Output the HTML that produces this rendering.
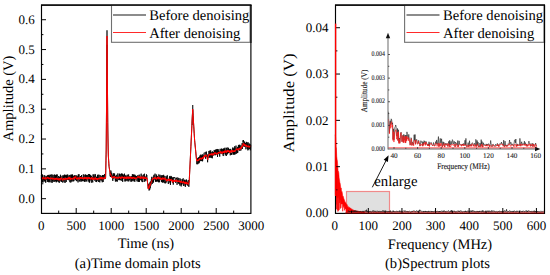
<!DOCTYPE html>
<html><head><meta charset="utf-8"><style>
html,body{margin:0;padding:0;background:#fff;width:550px;height:275px;overflow:hidden}
svg{display:block}
svg text{font-family:"Liberation Serif",serif;text-rendering:geometricPrecision}
</style></head><body><svg width="550" height="275" viewBox="0 0 550 275"><path d="M41.3 175.11 41.52 178.49 41.74 179.71 41.96 174.41 42.18 175.27 42.4 182.32 42.62 174.72 42.84 175.15 43.06 182.47 43.28 179.93 43.5 177.07 43.72 178.75 43.94 180.3 44.16 176.28 44.38 175.23 44.6 181.32 44.82 180.38 45.04 178.79 45.26 181.55 45.48 179.24 45.7 182.74 45.92 175.75 46.14 179.3 46.36 178.31 46.58 176.98 46.8 179.7 47.02 176.01 47.24 181.47 47.46 181.96 47.68 175.22 47.9 178.12 48.12 176.36 48.34 174.9 48.56 182.19 48.78 177.73 49 175.38 49.22 180.47 49.44 175.79 49.66 182.24 49.88 175.91 50.1 174.57 50.32 175.8 50.54 174.98 50.76 178.19 50.98 182.3 51.2 180.71 51.42 176.93 51.64 174.48 51.86 175.51 52.08 182.95 52.3 178.11 52.52 180.67 52.74 174.77 52.96 174.62 53.18 181.89 53.4 179.77 53.62 176.71 53.84 176.78 54.06 175.03 54.28 175.65 54.5 174.58 54.72 181.87 54.94 178.22 55.16 175.32 55.38 181.11 55.6 175.84 55.82 174.87 56.04 179.91 56.26 182.31 56.48 174.63 56.7 181.64 56.92 175.82 57.14 175.11 57.36 174.58 57.58 176.64 57.8 181.05 58.02 178.63 58.24 182.03 58.46 176.05 58.68 176.84 58.9 176.38 59.12 182.94 59.34 182.68 59.56 177.07 59.78 177.97 60 176.85 60.22 181.24 60.44 174.76 60.66 174.95 60.88 177.63 61.1 176.26 61.32 181.96 61.54 181.16 61.76 179.38 61.98 180.48 62.2 180.74 62.42 181.44 62.64 182.51 62.86 175.48 63.08 180.14 63.3 175.42 63.52 177.94 63.74 181.44 63.96 182.24 64.18 181.22 64.4 174.61 64.62 177.1 64.84 175.52 65.06 182.94 65.28 175.36 65.5 176.12 65.72 177.05 65.94 174.75 66.16 182 66.38 180.13 66.6 175.44 66.82 178.7 67.04 174.84 67.26 179.87 67.48 175.96 67.7 174.54 67.92 175.08 68.14 179.29 68.36 180.08 68.58 176.68 68.8 180.12 69.02 176.91 69.24 175.15 69.46 178.57 69.68 177.28 69.9 182.19 70.12 175.01 70.34 174.79 70.56 179.29 70.78 182.52 71 182.12 71.22 180.53 71.44 174.62 71.66 181.36 71.88 180.37 72.1 175.16 72.32 177.92 72.54 174.47 72.76 181.29 72.98 180.63 73.2 181.3 73.42 180.95 73.64 176.06 73.86 181.16 74.08 175.9 74.3 175.05 74.52 177.09 74.74 178.3 74.96 176.17 75.18 179.59 75.4 179.55 75.62 175.78 75.84 179.72 76.06 175.17 76.28 180.66 76.5 176.16 76.72 181.15 76.94 177.25 77.16 179 77.38 180.12 77.6 178.58 77.82 175.86 78.04 182.42 78.26 174.63 78.48 176.39 78.7 178.91 78.92 174.13 79.14 175.03 79.36 181.07 79.58 180.95 79.8 179.73 80.02 181.81 80.24 180.71 80.46 176.13 80.68 179.8 80.9 176.48 81.12 180.67 81.34 176.88 81.56 175 81.78 181.64 82 180.2 82.22 180.64 82.44 179 82.66 180.94 82.88 177.51 83.1 179.06 83.32 174.35 83.54 178.95 83.76 181.19 83.98 180.33 84.2 181.1 84.42 178.13 84.64 181.69 84.86 174.69 85.08 181.65 85.3 176.77 85.52 174.57 85.74 179.6 85.96 177.6 86.18 177.32 86.4 181.48 86.62 174.91 86.84 179.58 87.06 177.18 87.28 178.67 87.5 178.22 87.72 174.89 87.94 178.46 88.16 181.56 88.38 175.17 88.6 174.02 88.82 174.42 89.04 177.67 89.26 182.37 89.48 174.25 89.7 182.49 89.92 178.77 90.14 174.8 90.36 177.24 90.58 175.45 90.8 180.44 91.02 178.84 91.24 176.09 91.46 175.83 91.68 182.69 91.9 180.86 92.12 177.43 92.34 177.13 92.56 180.63 92.78 182.36 93 174.52 93.22 175.1 93.44 176.73 93.66 178.42 93.88 174.47 94.1 174.34 94.32 175.56 94.54 176.95 94.76 180.66 94.98 179.55 95.2 174.18 95.42 174.29 95.64 177.62 95.86 181.69 96.08 181.98 96.3 176.77 96.52 181.79 96.74 182.09 96.96 177.16 97.18 180.72 97.4 176.78 97.62 175.08 97.84 179.23 98.06 174.6 98.28 180.05 98.5 181.22 98.72 182 98.94 177.59 99.16 174.82 99.38 181.91 99.6 181.68 99.82 182.37 100.04 179.43 100.26 180.13 100.48 176.84 100.7 175.28 100.92 176.12 101.14 180.47 101.36 176.37 101.58 180.21 101.8 178.26 102.02 177.5 102.24 182.26 102.46 175.06 102.68 177.93 102.9 174.98 103.12 182 103.34 177.91 103.56 176.31 103.78 175 104 179.22 104.22 176.88 104.44 174.66 104.66 173.97 104.88 176.77 105.1 179.05 105.32 178.33 105.54 178 105.76 170.53 105.98 160.27 106.2 150 106.42 122.5 106.64 93.6 106.86 58.4 107.08 44.8 107.3 69 107.52 95 107.74 122.5 107.96 138 108.18 149 108.4 156.57 108.62 160.03 108.84 163.49 109.06 166.39 109.28 167.82 109.5 169.25 109.72 170.68 109.94 172.11 110.16 176.28 110.38 172.48 110.6 176.85 110.82 170.51 111.04 171.16 111.26 177.03 111.48 173.79 111.7 172.8 111.92 173.38 112.14 175.51 112.36 175.32 112.58 178.05 112.8 180.87 113.02 176 113.24 174.53 113.46 178.48 113.68 173.23 113.9 176.19 114.12 175.61 114.34 176.23 114.56 173.59 114.78 178.27 115 178.96 115.22 180.02 115.44 181.57 115.66 175.97 115.88 179.27 116.1 176.81 116.32 174.84 116.54 181.11 116.76 180.03 116.98 181.5 117.2 180.63 117.42 181.33 117.64 174.22 117.86 173.43 118.08 174.76 118.3 176.56 118.52 179.6 118.74 176.84 118.96 177.89 119.18 180.21 119.4 173.85 119.62 179.55 119.84 173.71 120.06 175.2 120.28 179.93 120.5 179.61 120.72 176.56 120.94 174.09 121.16 180.77 121.38 175.44 121.6 173.63 121.82 175.23 122.04 173.57 122.26 180.67 122.48 174.3 122.7 181.86 122.92 174.99 123.14 175.74 123.36 178.8 123.58 175.77 123.8 176.39 124.02 174.21 124.24 176.49 124.46 173.66 124.68 175.12 124.9 181.46 125.12 175.58 125.34 175.5 125.56 179.69 125.78 181.27 126 175.7 126.22 176.39 126.44 179.99 126.66 180.6 126.88 179.12 127.1 174.78 127.32 174.8 127.54 180.33 127.76 179.92 127.98 181.37 128.2 180.5 128.42 176.82 128.64 174.44 128.86 181.33 129.08 179.83 129.3 178.76 129.52 179.71 129.74 176.47 129.96 176.1 130.18 178.75 130.4 177.51 130.62 179.94 130.84 181.65 131.06 181.01 131.28 176.5 131.5 176.36 131.72 181.59 131.94 176.56 132.16 180.66 132.38 174.15 132.6 177.13 132.82 178.08 133.04 180.72 133.26 181.24 133.48 174.59 133.7 179.15 133.92 179.26 134.14 174.58 134.36 180.91 134.58 178.52 134.8 181.83 135.02 174.84 135.24 178.19 135.46 175.93 135.68 179.38 135.9 179.06 136.12 178.02 136.34 175.94 136.56 177.89 136.78 176.36 137 181.33 137.22 177.25 137.44 177.41 137.66 175.4 137.88 175.36 138.1 181.78 138.32 175.85 138.54 181.17 138.76 178.94 138.98 181.97 139.2 174.67 139.42 181.69 139.64 180.45 139.86 178.67 140.08 179.94 140.3 180.06 140.52 177.12 140.74 179.33 140.96 175.19 141.18 173.68 141.4 179.71 141.62 177.45 141.84 181.49 142.06 175.5 142.28 180.86 142.5 182.08 142.72 181.46 142.94 181.94 143.16 174.72 143.38 174.78 143.6 175.26 143.82 176.75 144.04 174.43 144.26 174.69 144.48 173.76 144.7 181.77 144.92 176.4 145.14 179.37 145.36 177.32 145.58 180.37 145.8 180.87 146.02 176.63 146.24 178.49 146.46 174.37 146.68 175.81 146.9 175.31 147.12 179.02 147.34 180.88 147.56 182.74 147.78 184.6 148 186.46 148.22 188.32 148.44 184.46 148.66 183.91 148.88 183.76 149.1 190.5 149.32 188.14 149.54 188.43 149.76 189.62 149.98 182.36 150.2 188.29 150.42 181.49 150.64 183.8 150.86 184.87 151.08 185.26 151.3 179.41 151.52 181 151.74 176.85 151.96 178.14 152.18 183.94 152.4 182.88 152.62 179.93 152.84 181.52 153.06 182.22 153.28 176.66 153.5 182.47 153.72 177.45 153.94 174.83 154.16 178.29 154.38 178.81 154.6 179.62 154.82 179.46 155.04 173.66 155.26 179.25 155.48 181.48 155.7 179.57 155.92 181.92 156.14 178.03 156.36 180.78 156.58 174.57 156.8 181.47 157.02 176.47 157.24 181.39 157.46 176.1 157.68 179.44 157.9 181.26 158.12 180.24 158.34 179.48 158.56 182.24 158.78 174.49 159 174.62 159.22 178.93 159.44 182.24 159.66 180.24 159.88 176.33 160.1 174.81 160.32 177.68 160.54 178.08 160.76 177.96 160.98 179.83 161.2 176.21 161.42 181.98 161.64 176.39 161.86 175.04 162.08 176.96 162.3 182.49 162.52 175.51 162.74 176.45 162.96 182.51 163.18 177.1 163.4 181.97 163.62 174.83 163.84 182.36 164.06 176.3 164.28 175.9 164.5 181.34 164.72 183.19 164.94 183.01 165.16 181.52 165.38 182.78 165.6 183.33 165.82 179.88 166.04 175.94 166.26 182.48 166.48 178.07 166.7 177.38 166.92 179.41 167.14 175.37 167.36 175.3 167.58 177.16 167.8 180.71 168.02 182.07 168.24 183.65 168.46 182.69 168.68 183.63 168.9 181.3 169.12 182.17 169.34 180.93 169.56 176.18 169.78 176.09 170 182.55 170.22 177.2 170.44 184.92 170.66 179.61 170.88 175.92 171.1 181.02 171.32 179.51 171.54 176.52 171.76 177.97 171.98 178.39 172.2 178.76 172.42 182.61 172.64 177.42 172.86 179.82 173.08 181.87 173.3 184.59 173.52 177.22 173.74 177 173.96 177.87 174.18 178.14 174.4 177.74 174.62 177.16 174.84 178.18 175.06 178.33 175.28 180.72 175.5 182.72 175.72 179.62 175.94 178.08 176.16 177.59 176.38 178.9 176.6 178.23 176.82 181.03 177.04 184.78 177.26 183.63 177.48 178.64 177.7 177.46 177.92 177.73 178.14 180.77 178.36 180.12 178.58 183.6 178.8 178.01 179.02 179.33 179.24 183.76 179.46 182.72 179.68 182.18 179.9 185.55 180.12 178.48 180.34 179.13 180.56 182.91 180.78 182.95 181 186.31 181.22 186.33 181.44 182.15 181.66 184.81 181.88 184.36 182.1 179 182.32 183.61 182.54 180.42 182.76 180.92 182.98 179.34 183.2 178.33 183.42 185.87 183.64 184.82 183.86 185.18 184.08 180.57 184.3 181.76 184.52 179.78 184.74 184.07 184.96 186.06 185.18 185.64 185.4 186.83 185.62 180.64 185.84 185.15 186.06 179.71 186.28 183.68 186.5 179.68 186.72 183.81 186.94 183.88 187.16 181.66 187.38 181.72 187.6 185.57 187.82 183.14 188.04 182.38 188.26 180.03 188.48 181.37 188.7 186.54 188.92 186.85 189.14 182.16 189.36 178.66 189.58 174.07 189.8 169.49 190.02 164.9 190.24 160.31 190.46 155.72 190.68 151.13 190.9 146.54 191.12 141.95 191.34 137.37 191.56 132.78 191.78 128.19 192 123.6 192.22 119.01 192.44 114.42 192.66 109.83 192.88 111.94 193.1 115.53 193.32 119.12 193.54 122.71 193.76 126.29 193.98 129.88 194.2 133.47 194.42 137.06 194.64 140.41 194.86 142.66 195.08 144.92 195.3 147.17 195.52 149.43 195.74 151.68 195.96 153.94 196.18 156.19 196.4 158.45 196.62 160.5 196.84 164.22 197.06 161.85 197.28 159.73 197.5 158.23 197.72 164.21 197.94 162.99 198.16 163.12 198.38 157.45 198.6 159.19 198.82 163.36 199.04 157.25 199.26 162.58 199.48 160.04 199.7 156.65 199.92 157.81 200.14 155.33 200.36 160.81 200.58 161.12 200.8 154.61 201.02 156.52 201.24 161.07 201.46 155.46 201.68 158.72 201.9 160.96 202.12 158.82 202.34 154.35 202.56 161.31 202.78 159.96 203 158.22 203.22 155.45 203.44 158.12 203.66 155.7 203.88 153.37 204.1 153.26 204.32 152.57 204.54 153.34 204.76 153.78 204.98 155.89 205.2 156.4 205.42 156.97 205.64 158.76 205.86 151.97 206.08 154.17 206.3 151.58 206.52 154.28 206.74 156.16 206.96 157.04 207.18 154.35 207.4 158.8 207.62 162.25 207.84 156.98 208.06 157.92 208.28 156.65 208.5 155.38 208.72 155.29 208.94 150.96 209.16 153.99 209.38 155.67 209.6 157.64 209.82 150.64 210.04 157.37 210.26 155.35 210.48 155.4 210.7 150.43 210.92 157.78 211.14 152.04 211.36 154.89 211.58 154.75 211.8 157.82 212.02 155.31 212.24 158.31 212.46 151.41 212.68 155.72 212.9 154.89 213.12 154.13 213.34 155.29 213.56 154.49 213.78 152 214 155.28 214.22 149.95 214.44 153.28 214.66 152.93 214.88 150.78 215.1 153.73 215.32 155.26 215.54 149.98 215.76 151.26 215.98 149.44 216.2 154.43 216.42 149.49 216.64 150.55 216.86 152.43 217.08 152.43 217.3 148.97 217.52 156.93 217.74 150.33 217.96 154.19 218.18 149.19 218.4 153.97 218.62 151.16 218.84 150.82 219.06 152.29 219.28 153.7 219.5 153.77 219.72 156.59 219.94 150.19 220.16 148.83 220.38 150.02 220.6 150.59 220.82 153.67 221.04 151.34 221.26 150.39 221.48 148.73 221.7 153.47 221.92 148.77 222.14 152.55 222.36 154.21 222.58 153.62 222.8 149.03 223.02 150.58 223.24 156.04 223.46 148.46 223.68 153.99 223.9 151.25 224.12 153.36 224.34 150.78 224.56 148.58 224.78 152.79 225 147.7 225.22 155.27 225.44 154.75 225.66 150.45 225.88 152.4 226.1 152.26 226.32 155.97 226.54 147.79 226.76 149.68 226.98 150.62 227.2 154.48 227.42 154 227.64 150.71 227.86 147.42 228.08 153.24 228.3 150.47 228.52 148.1 228.74 153.02 228.96 150.79 229.18 149.49 229.4 151.02 229.62 151.79 229.84 148.94 230.06 150.15 230.28 155.27 230.5 151 230.72 148.89 230.94 151.65 231.16 154.98 231.38 154.54 231.6 153 231.82 154.65 232.04 153.52 232.26 152.84 232.48 149.96 232.7 147.57 232.92 153.07 233.14 152.19 233.36 154.7 233.58 148.67 233.8 153.92 234.02 147.72 234.24 154.29 234.46 154.58 234.68 146.27 234.9 148.32 235.12 154.4 235.34 154.13 235.56 151.81 235.78 146.58 236 145.61 236.22 147.32 236.44 153.65 236.66 152.57 236.88 148.7 237.1 152.1 237.32 153.1 237.54 147.35 237.76 152.77 237.98 146.98 238.2 147.4 238.42 145.18 238.64 145.95 238.86 149.73 239.08 144.8 239.3 149.39 239.52 145.48 239.74 150.84 239.96 144.81 240.18 145.21 240.4 145.51 240.62 148.67 240.84 150.55 241.06 149.78 241.28 149.5 241.5 148.83 241.72 147.34 241.94 144.84 242.16 143.12 242.38 148.96 242.6 144.02 242.82 146.25 243.04 140.28 243.26 142.05 243.48 140.12 243.7 142.37 243.92 146.57 244.14 142.77 244.36 146.66 244.58 141.58 244.8 143.94 245.02 144.42 245.24 145.75 245.46 143.01 245.68 147.78 245.9 149.27 246.12 148.83 246.34 141.86 246.56 145.8 246.78 144.4 247 147.09 247.22 142.52 247.44 148.62 247.66 145.36 247.88 150.37 248.1 142.33 248.32 145.49 248.54 146.26 248.76 149.59 248.98 149.02 249.2 143.51 249.42 144.5 249.64 148.86 249.86 145.5 250.08 144.13 250.3 150.32 250.52 149.68 250.74 144.91" fill="none" stroke="#000" stroke-width="0.85" />
<path d="M106.5 110 107 30.3 107.5 110" fill="none" stroke="#333" stroke-width="1.0" />
<path d="M192.2 125 192.7 105 193.2 125" fill="none" stroke="#333" stroke-width="1.0" />
<path d="M41.3 178.62 41.9 177.2 42.5 178.89 43.1 178.8 43.7 177.21 44.3 179.25 44.9 177.68 45.5 178.48 46.1 179.27 46.7 177.7 47.3 177.59 47.9 178.01 48.5 178.04 49.1 178.58 49.7 178.37 50.3 178.39 50.9 178.41 51.5 178.59 52.1 178.22 52.7 178.89 53.3 178.71 53.9 178.15 54.5 179.76 55.1 178.03 55.7 179.17 56.3 178.35 56.9 178.98 57.5 179.08 58.1 179.28 58.7 179.6 59.3 178.34 59.9 180.43 60 178.8 60.5 179.04 61.1 178.34 61.7 178.02 62.3 180.08 62.9 179.67 63.5 178.72 64.1 179.14 64.7 179.44 65.3 178.74 65.9 178.42 66.5 178.63 67.1 179.1 67.7 178.62 68.3 177.9 68.9 179 69.5 177.59 70.1 178.12 70.7 179.22 71.3 178.64 71.9 178.62 72.5 178.53 73.1 179.03 73.7 178.4 74.3 177.32 74.9 178.53 75.5 176.65 76.1 177.21 76.7 179.23 77.3 178.91 77.9 178.04 78.5 178.24 79.1 178.32 79.7 178.81 80 178.2 80.3 177.81 80.9 177.75 81.5 177.89 82.1 178.33 82.7 178.4 83.3 178.03 83.9 178.69 84.5 177.69 85.1 178.22 85.7 177.88 86.3 177.7 86.9 178.96 87.5 178.1 88.1 177.71 88.7 178.31 89.3 177.72 89.9 178.62 90.5 178.77 91.1 178.87 91.7 177.7 92.3 178.22 92.9 179.34 93.5 178.19 94.1 179.02 94.7 179.17 95.3 177.54 95.9 179 96.5 178.75 97.1 178.82 97.7 179.28 98.3 178.59 98.9 178.38 99.5 178.68 100 178.3 100.1 178.14 100.7 178.58 101.3 177.14 101.9 179.21 102.5 177.91 103.1 178.48 103.7 178.32 104.3 178.17 104.9 178.04 105.5 178.01 105.6 178 106.1 154.67 106.2 150 106.6 100 106.7 84 107 36 107.3 69 107.4 80 107.8 130 107.9 135 108.3 155 108.5 158.14 109 166 109.1 166.65 109.7 171.27 110 172.5 110.3 174.22 110.9 174.93 111.5 176.5 111.5 176.69 112.1 177.37 112.7 177.66 113 177.5 113.3 177.5 113.9 176.74 114.5 177.16 115.1 176.74 115.7 178.49 116.3 177.39 116.9 177.53 117.5 177.81 118.1 177.67 118.7 177.97 119.3 177.34 119.9 176.85 120.5 178.7 121.1 177.33 121.7 177.48 122.3 177.31 122.9 177.47 123.5 177.8 124.1 178.22 124.7 177.23 125 177.8 125.3 177.99 125.9 177.45 126.5 178.5 127.1 177.13 127.7 177.88 128.3 178.22 128.9 177.06 129.5 177.88 130.1 177.9 130.7 177.37 131.3 177.7 131.9 178.37 132.5 177.95 133.1 177.58 133.7 177.7 134.3 178.06 134.9 178.52 135.5 178.26 136.1 178.22 136.7 178.69 137.3 176.95 137.9 177.01 138.5 176.55 139.1 178.28 139.7 176.54 140 177.8 140.3 177.79 140.9 178.25 141.5 177.08 142.1 177.5 142.7 177.74 143.3 178.31 143.9 177.08 144.5 178.11 145.1 178.34 145.7 178.05 146.3 177.98 146.9 178 147 178 147.5 182.23 148.1 187.31 148.3 189 148.7 188.08 149.3 186.69 149.6 186 149.9 185.28 150.5 184.19 151.1 182.44 151.7 181.56 152.3 179.05 152.5 179 152.9 178.76 153.5 178.5 154.1 178.11 154.5 177.6 154.7 178.26 155.3 177.93 155.9 178.29 156.5 178.95 157.1 178.42 157.7 177.44 158.3 177.32 158.9 178.56 159.5 178.06 160.1 178.51 160.7 178.33 161.3 179.23 161.9 179.25 162.5 178.05 163.1 178.9 163.7 178.66 164.3 178.19 164.9 179.35 165 179 165.5 179.02 166.1 179.47 166.7 180.71 167.3 180.19 167.9 180.19 168.5 179.48 169.1 179.17 169.7 180.63 170.3 179.89 170.9 180.21 171.5 180.09 172.1 180.48 172.7 181.87 173.3 180.49 173.9 180.63 174.5 181.01 175 181 175.1 181.18 175.7 180.47 176.3 180.27 176.9 181.04 177.5 181.36 178.1 181.16 178.7 181.15 179.3 181.3 179.9 181.71 180.5 181.98 181.1 181.26 181.7 181.97 182.3 182.58 182.9 182.43 183.5 181.87 184.1 182.53 184.7 182.83 185.3 183.38 185.9 182.18 186.5 183.56 187.1 183.04 187.7 183.52 188.3 183.9 188.6 183.6 188.9 182.31 189.2 182 189.5 175.28 190.1 163.15 190.7 150.71 191.3 138.2 191.9 125.69 192.5 113.17 192.7 109 193.1 115.53 193.7 125.32 194.3 135.11 194.6 140 194.9 143.08 195.5 149.23 196.1 155.38 196.6 160.5 196.7 160.51 197.3 160.57 197.6 160.6 197.9 160.42 198.5 160.07 199.1 159.7 199.7 158.78 200.3 158.68 200.9 158.24 201.5 158.85 202 158 202.1 158.71 202.7 157.73 203.3 158.04 203.9 156.63 204.5 156.26 205.1 155.34 205.7 155.7 206.3 155.32 206.5 155.2 206.9 156.8 207.5 159.2 207.7 160 208.1 157.69 208.6 154.8 208.7 154.78 209.3 154.66 209.9 154.48 210.5 154.41 211.1 154.64 211.7 154.04 212.3 153.89 212.9 154.86 213.5 154.38 214.1 153.62 214.7 153.04 215.3 153.19 215.9 153.52 216.5 153.65 217.1 154.38 217.7 152.82 218.3 152.91 218.9 152.52 219.5 152.63 220 152.5 220.1 152.27 220.7 151.83 221.3 152.91 221.9 152.36 222.5 152.92 223.1 151.88 223.7 152.24 224.3 152.38 224.9 150.94 225.5 151.18 226.1 152.24 226.7 151.82 227.3 150.7 227.9 151.24 228.5 151 229.1 151.25 229.7 152.28 230.3 151.07 230.9 152.42 231 151.3 231.5 151.02 232.1 150.59 232.7 151.67 233.3 151.16 233.9 151.22 234.5 151.36 235.1 150.71 235.7 150.62 236.3 148.85 236.9 149.17 237.5 149.68 238.1 149.38 238.7 149.49 239 149 239.3 148.51 239.9 148.87 240.5 148.87 241.1 147.59 241.7 147.23 242 146.5 242.3 146.11 242.9 144.95 243.3 143.5 243.5 143.88 244.1 144.19 244.7 145.28 245 145.5 245.3 145.68 245.9 145 246.5 146.15 247.1 146.24 247.7 146.54 248 146.5 248.3 146.23 248.9 146.79 249.5 146.87 250.1 146.14 250.7 146.7" fill="none" stroke="#ff0000" stroke-width="1.0" stroke-linejoin="round"/>
<path d="M41.3 178.62 41.9 177.2" fill="none" stroke="#ff0000" stroke-width="1.5" stroke-linejoin="round"/>
<path d="M42.5 178.89 43.1 178.8" fill="none" stroke="#ff0000" stroke-width="1.5" stroke-linejoin="round"/>
<path d="M44.9 177.68 45.5 178.48 46.1 179.27" fill="none" stroke="#ff0000" stroke-width="1.5" stroke-linejoin="round"/>
<path d="M46.7 177.7 47.3 177.59 47.9 178.01 48.5 178.04 49.1 178.58 49.7 178.37 50.3 178.39 50.9 178.41 51.5 178.59 52.1 178.22 52.7 178.89 53.3 178.71 53.9 178.15" fill="none" stroke="#ff0000" stroke-width="1.5" stroke-linejoin="round"/>
<path d="M55.1 178.03 55.7 179.17 56.3 178.35 56.9 178.98 57.5 179.08 58.1 179.28 58.7 179.6 59.3 178.34" fill="none" stroke="#ff0000" stroke-width="1.5" stroke-linejoin="round"/>
<path d="M60 178.8 60.5 179.04 61.1 178.34 61.7 178.02" fill="none" stroke="#ff0000" stroke-width="1.5" stroke-linejoin="round"/>
<path d="M62.3 180.08 62.9 179.67 63.5 178.72 64.1 179.14 64.7 179.44 65.3 178.74 65.9 178.42 66.5 178.63 67.1 179.1 67.7 178.62 68.3 177.9 68.9 179 69.5 177.59 70.1 178.12 70.7 179.22 71.3 178.64 71.9 178.62 72.5 178.53 73.1 179.03 73.7 178.4 74.3 177.32 74.9 178.53" fill="none" stroke="#ff0000" stroke-width="1.5" stroke-linejoin="round"/>
<path d="M75.5 176.65 76.1 177.21" fill="none" stroke="#ff0000" stroke-width="1.5" stroke-linejoin="round"/>
<path d="M76.7 179.23 77.3 178.91 77.9 178.04 78.5 178.24 79.1 178.32 79.7 178.81 80 178.2 80.3 177.81 80.9 177.75 81.5 177.89 82.1 178.33 82.7 178.4 83.3 178.03 83.9 178.69 84.5 177.69 85.1 178.22 85.7 177.88 86.3 177.7 86.9 178.96 87.5 178.1 88.1 177.71 88.7 178.31 89.3 177.72 89.9 178.62 90.5 178.77 91.1 178.87 91.7 177.7 92.3 178.22 92.9 179.34 93.5 178.19 94.1 179.02 94.7 179.17" fill="none" stroke="#ff0000" stroke-width="1.5" stroke-linejoin="round"/>
<path d="M95.3 177.54 95.9 179 96.5 178.75 97.1 178.82 97.7 179.28 98.3 178.59 98.9 178.38 99.5 178.68 100 178.3 100.1 178.14 100.7 178.58 101.3 177.14" fill="none" stroke="#ff0000" stroke-width="1.5" stroke-linejoin="round"/>
<path d="M101.9 179.21 102.5 177.91 103.1 178.48 103.7 178.32 104.3 178.17 104.9 178.04 105.5 178.01 105.6 178" fill="none" stroke="#ff0000" stroke-width="1.5" stroke-linejoin="round"/>
<path d="M110.3 174.22 110.9 174.93" fill="none" stroke="#ff0000" stroke-width="1.5" stroke-linejoin="round"/>
<path d="M111.5 176.69 112.1 177.37 112.7 177.66 113 177.5 113.3 177.5 113.9 176.74 114.5 177.16 115.1 176.74" fill="none" stroke="#ff0000" stroke-width="1.5" stroke-linejoin="round"/>
<path d="M115.7 178.49 116.3 177.39 116.9 177.53 117.5 177.81 118.1 177.67 118.7 177.97 119.3 177.34 119.9 176.85" fill="none" stroke="#ff0000" stroke-width="1.5" stroke-linejoin="round"/>
<path d="M120.5 178.7 121.1 177.33 121.7 177.48 122.3 177.31 122.9 177.47 123.5 177.8 124.1 178.22 124.7 177.23 125 177.8 125.3 177.99 125.9 177.45 126.5 178.5 127.1 177.13 127.7 177.88 128.3 178.22 128.9 177.06 129.5 177.88 130.1 177.9 130.7 177.37 131.3 177.7 131.9 178.37 132.5 177.95 133.1 177.58 133.7 177.7 134.3 178.06 134.9 178.52 135.5 178.26 136.1 178.22 136.7 178.69" fill="none" stroke="#ff0000" stroke-width="1.5" stroke-linejoin="round"/>
<path d="M137.3 176.95 137.9 177.01 138.5 176.55" fill="none" stroke="#ff0000" stroke-width="1.5" stroke-linejoin="round"/>
<path d="M140 177.8 140.3 177.79 140.9 178.25 141.5 177.08 142.1 177.5 142.7 177.74 143.3 178.31 143.9 177.08 144.5 178.11 145.1 178.34 145.7 178.05 146.3 177.98 146.9 178 147 178" fill="none" stroke="#ff0000" stroke-width="1.5" stroke-linejoin="round"/>
<path d="M148.3 189 148.7 188.08 149.3 186.69 149.6 186 149.9 185.28 150.5 184.19" fill="none" stroke="#ff0000" stroke-width="1.5" stroke-linejoin="round"/>
<path d="M151.1 182.44 151.7 181.56" fill="none" stroke="#ff0000" stroke-width="1.5" stroke-linejoin="round"/>
<path d="M152.3 179.05 152.5 179 152.9 178.76 153.5 178.5 154.1 178.11 154.5 177.6" fill="none" stroke="#ff0000" stroke-width="1.5" stroke-linejoin="round"/>
<path d="M154.7 178.26 155.3 177.93 155.9 178.29 156.5 178.95 157.1 178.42 157.7 177.44 158.3 177.32 158.9 178.56 159.5 178.06 160.1 178.51 160.7 178.33 161.3 179.23 161.9 179.25 162.5 178.05 163.1 178.9 163.7 178.66 164.3 178.19 164.9 179.35" fill="none" stroke="#ff0000" stroke-width="1.5" stroke-linejoin="round"/>
<path d="M165 179 165.5 179.02 166.1 179.47 166.7 180.71 167.3 180.19 167.9 180.19 168.5 179.48 169.1 179.17 169.7 180.63 170.3 179.89 170.9 180.21 171.5 180.09 172.1 180.48 172.7 181.87 173.3 180.49 173.9 180.63 174.5 181.01 175 181 175.1 181.18 175.7 180.47 176.3 180.27 176.9 181.04 177.5 181.36 178.1 181.16 178.7 181.15 179.3 181.3 179.9 181.71 180.5 181.98 181.1 181.26 181.7 181.97 182.3 182.58 182.9 182.43 183.5 181.87 184.1 182.53 184.7 182.83 185.3 183.38 185.9 182.18 186.5 183.56 187.1 183.04 187.7 183.52 188.3 183.9 188.6 183.6" fill="none" stroke="#ff0000" stroke-width="1.5" stroke-linejoin="round"/>
<path d="M188.9 182.31 189.2 182" fill="none" stroke="#ff0000" stroke-width="1.5" stroke-linejoin="round"/>
<path d="M196.6 160.5 196.7 160.51 197.3 160.57 197.6 160.6 197.9 160.42 198.5 160.07 199.1 159.7 199.7 158.78 200.3 158.68 200.9 158.24 201.5 158.85 202 158" fill="none" stroke="#ff0000" stroke-width="1.5" stroke-linejoin="round"/>
<path d="M202.1 158.71 202.7 157.73 203.3 158.04 203.9 156.63 204.5 156.26 205.1 155.34 205.7 155.7 206.3 155.32 206.5 155.2" fill="none" stroke="#ff0000" stroke-width="1.5" stroke-linejoin="round"/>
<path d="M208.6 154.8 208.7 154.78 209.3 154.66 209.9 154.48 210.5 154.41 211.1 154.64 211.7 154.04 212.3 153.89 212.9 154.86 213.5 154.38 214.1 153.62 214.7 153.04 215.3 153.19 215.9 153.52 216.5 153.65 217.1 154.38" fill="none" stroke="#ff0000" stroke-width="1.5" stroke-linejoin="round"/>
<path d="M217.7 152.82 218.3 152.91 218.9 152.52 219.5 152.63 220 152.5 220.1 152.27 220.7 151.83 221.3 152.91 221.9 152.36 222.5 152.92 223.1 151.88 223.7 152.24 224.3 152.38 224.9 150.94 225.5 151.18 226.1 152.24 226.7 151.82 227.3 150.7 227.9 151.24 228.5 151 229.1 151.25 229.7 152.28 230.3 151.07 230.9 152.42" fill="none" stroke="#ff0000" stroke-width="1.5" stroke-linejoin="round"/>
<path d="M231 151.3 231.5 151.02 232.1 150.59 232.7 151.67 233.3 151.16 233.9 151.22 234.5 151.36 235.1 150.71 235.7 150.62" fill="none" stroke="#ff0000" stroke-width="1.5" stroke-linejoin="round"/>
<path d="M236.3 148.85 236.9 149.17 237.5 149.68 238.1 149.38 238.7 149.49 239 149 239.3 148.51 239.9 148.87 240.5 148.87 241.1 147.59 241.7 147.23 242 146.5 242.3 146.11 242.9 144.95" fill="none" stroke="#ff0000" stroke-width="1.5" stroke-linejoin="round"/>
<path d="M243.3 143.5 243.5 143.88 244.1 144.19 244.7 145.28 245 145.5 245.3 145.68 245.9 145 246.5 146.15 247.1 146.24 247.7 146.54 248 146.5 248.3 146.23 248.9 146.79 249.5 146.87 250.1 146.14 250.7 146.7" fill="none" stroke="#ff0000" stroke-width="1.5" stroke-linejoin="round"/>
<rect x="41.5" y="5.1" width="209.4" height="208.3" fill="none" stroke="#000" stroke-width="1.15"/>
<text x="41.2" y="229.6" font-size="13" text-anchor="middle" fill="#000" >0</text>
<line x1="58.7" y1="213" x2="58.7" y2="210.6" stroke="#000" stroke-width="1"/>
<line x1="76.2" y1="213" x2="76.2" y2="208" stroke="#000" stroke-width="1"/>
<text x="76.2" y="229.6" font-size="13" text-anchor="middle" fill="#000" >500</text>
<line x1="93.7" y1="213" x2="93.7" y2="210.6" stroke="#000" stroke-width="1"/>
<line x1="111.2" y1="213" x2="111.2" y2="208" stroke="#000" stroke-width="1"/>
<text x="111.2" y="229.6" font-size="13" text-anchor="middle" fill="#000" >1000</text>
<line x1="128.7" y1="213" x2="128.7" y2="210.6" stroke="#000" stroke-width="1"/>
<line x1="146.2" y1="213" x2="146.2" y2="208" stroke="#000" stroke-width="1"/>
<text x="146.2" y="229.6" font-size="13" text-anchor="middle" fill="#000" >1500</text>
<line x1="163.7" y1="213" x2="163.7" y2="210.6" stroke="#000" stroke-width="1"/>
<line x1="181.2" y1="213" x2="181.2" y2="208" stroke="#000" stroke-width="1"/>
<text x="181.2" y="229.6" font-size="13" text-anchor="middle" fill="#000" >2000</text>
<line x1="198.7" y1="213" x2="198.7" y2="210.6" stroke="#000" stroke-width="1"/>
<line x1="216.2" y1="213" x2="216.2" y2="208" stroke="#000" stroke-width="1"/>
<text x="216.2" y="229.6" font-size="13" text-anchor="middle" fill="#000" >2500</text>
<line x1="233.7" y1="213" x2="233.7" y2="210.6" stroke="#000" stroke-width="1"/>
<text x="251.2" y="229.6" font-size="13" text-anchor="middle" fill="#000" >3000</text>
<line x1="41" y1="198.7" x2="46" y2="198.7" stroke="#000" stroke-width="1"/>
<text x="34.8" y="202.8" font-size="13" text-anchor="end" fill="#000" >0.0</text>
<line x1="41" y1="183.78" x2="43.4" y2="183.78" stroke="#000" stroke-width="1"/>
<line x1="41" y1="168.87" x2="46" y2="168.87" stroke="#000" stroke-width="1"/>
<text x="34.8" y="172.97" font-size="13" text-anchor="end" fill="#000" >0.1</text>
<line x1="41" y1="153.95" x2="43.4" y2="153.95" stroke="#000" stroke-width="1"/>
<line x1="41" y1="139.04" x2="46" y2="139.04" stroke="#000" stroke-width="1"/>
<text x="34.8" y="143.14" font-size="13" text-anchor="end" fill="#000" >0.2</text>
<line x1="41" y1="124.12" x2="43.4" y2="124.12" stroke="#000" stroke-width="1"/>
<line x1="41" y1="109.21" x2="46" y2="109.21" stroke="#000" stroke-width="1"/>
<text x="34.8" y="113.31" font-size="13" text-anchor="end" fill="#000" >0.3</text>
<line x1="41" y1="94.29" x2="43.4" y2="94.29" stroke="#000" stroke-width="1"/>
<line x1="41" y1="79.38" x2="46" y2="79.38" stroke="#000" stroke-width="1"/>
<text x="34.8" y="83.48" font-size="13" text-anchor="end" fill="#000" >0.4</text>
<line x1="41" y1="64.46" x2="43.4" y2="64.46" stroke="#000" stroke-width="1"/>
<line x1="41" y1="49.55" x2="46" y2="49.55" stroke="#000" stroke-width="1"/>
<text x="34.8" y="53.65" font-size="13" text-anchor="end" fill="#000" >0.5</text>
<line x1="41" y1="34.63" x2="43.4" y2="34.63" stroke="#000" stroke-width="1"/>
<line x1="41" y1="19.72" x2="46" y2="19.72" stroke="#000" stroke-width="1"/>
<text x="34.8" y="23.82" font-size="13" text-anchor="end" fill="#000" >0.6</text>
<rect x="111.5" y="5.1" width="138.6" height="37.2" fill="#fff" stroke="#707070" stroke-width="1.1"/>
<line x1="113" y1="15" x2="146" y2="15" stroke="#666" stroke-width="1.7"/>
<line x1="113" y1="32.5" x2="146" y2="32.5" stroke="#ff2a2a" stroke-width="1.2"/>
<line x1="41" y1="5.1" x2="251.5" y2="5.1" stroke="#000" stroke-width="1.15"/>
<line x1="250.9" y1="5" x2="250.9" y2="43" stroke="#000" stroke-width="1.15"/>
<text x="149.2" y="19.8" font-size="14.6" text-anchor="start" fill="#000" >Before denoising</text>
<text x="149.2" y="37.6" font-size="14.6" text-anchor="start" fill="#000" >After denoising</text>
<text x="13.2" y="98.5" font-size="14.5" text-anchor="middle" fill="#000" transform="rotate(-90 13.2 98.5)">Amplitude (V)</text>
<text x="146" y="248.4" font-size="14.5" text-anchor="middle" fill="#000" >Time (ns)</text>
<text x="137.7" y="267.5" font-size="14.6" text-anchor="middle" fill="#000" >(a)Time domain plots</text>
<rect x="346.5" y="191.5" width="43" height="21.5" fill="#e0e0e0" stroke="#f08a8a" stroke-width="1.2"/>
<path d="M335.3 134.67 335.65 137.96 336 147.19 336.35 147.8 336.7 156.15 337.05 159.2 337.4 160.99 337.75 165.88 338.1 170.64 338.45 171.18 338.8 172.85 339.15 177.9 339.5 179.75 339.85 182.56 340.2 183.47 340.55 186.17 340.9 188.54 341.25 187.97 341.6 192.35 341.95 191.4 342.3 192.79 342.65 195.34 343 196.81 343.35 196.41 343.7 197.92 344.05 199.59 344.4 199.64 344.75 201.4 345.1 201.58 345.45 202.57 345.8 202.69 346.15 203.82 346.5 204.65 346.85 204.26 347.2 204.71 347.55 206.15 347.9 206.75 348.25 206.49 348.6 207.12 348.95 207.64 349.3 207.45 349.65 207.26 350 207.77 350.35 208.07 350.7 208.62 351.05 208.37 351.4 209.42 351.75 208.87 352.1 209.48 352.45 209.41 352.8 209.66 353.15 209.86 353.5 209.89 353.85 210.4 354.2 210.56 354.55 210.87 354.9 210.6 355.25 210.51 355.6 210.88 355.95 210.59 356.3 211.24 356.65 210.94 357 211.39 357.35 211.12 357.7 210.98 358.05 211.01 358.4 211.13 358.75 211.71 359.1 211.31 359.45 211.64 359.8 211.52 360.15 211.87 360.5 211.66 360.85 211.49 361.2 212.01 361.55 211.64 361.9 211.44 362.25 211.75 362.6 211.94 362.95 212.03 363.3 211.85 363.65 211.92 364 211.71 364.35 211.69 364.7 211.73 364.7 212.5 364.35 212.5 364 212.5 363.65 212.5 363.3 212.5 362.95 212.5 362.6 212.5 362.25 212.5 361.9 212.5 361.55 212.5 361.2 212.5 360.85 212.5 360.5 212.5 360.15 212.5 359.8 212.5 359.45 212.5 359.1 212.5 358.75 212.5 358.4 212.5 358.05 212.5 357.7 212.5 357.35 212.5 357 212.5 356.65 212.5 356.3 212.5 355.95 212.5 355.6 212.5 355.25 212.5 354.9 212.5 354.55 212.5 354.2 212.5 353.85 212.5 353.5 212.5 353.15 212.5 352.8 212.5 352.45 212.5 352.1 212.5 351.75 212.5 351.4 212.5 351.05 212.5 350.7 212.5 350.35 212.5 350 212.5 349.65 212.5 349.3 212.5 348.95 212.5 348.6 212.5 348.25 212.5 347.9 212.5 347.55 212.5 347.2 212.5 346.85 212.5 346.5 212.5 346.15 212.5 345.8 209.17 345.45 207.68 345.1 208.67 344.75 207.93 344.4 206.53 344.05 206.66 343.7 206.8 343.35 205.85 343 205.66 342.65 204.15 342.3 203.8 341.95 204.25 341.6 202.82 341.25 204 340.9 200.6 340.55 199.81 340.2 201.47 339.85 199.46 339.5 199.06 339.15 199.72 338.8 196.46 338.45 194.9 338.1 197.76 337.75 195.2 337.4 198.09 337.05 196.45 336.7 195.47 336.35 197.19 336 194.69 335.65 194.35 335.3 194.52Z" fill="#ff0000" stroke="#ff0000" stroke-width="0.5"/>
<path d="M335.8 195 336.1 204.43 336.4 195 336.7 209.08 337 195 337.3 210.09 337.6 195 337.9 211.58 338.2 195 338.5 210.64 338.8 195.81 339.1 210.12 339.4 197.7 339.7 202.94 340 199.37 340.3 208.63 340.6 200.86 340.9 207.86 341.2 202.18 341.5 203.63 341.8 203.34 342.1 200.88 342.4 204.38 342.7 211.26 343 205.3 343.3 205.46 343.6 206.11 343.9 207.49 344.2 206.83 344.5 210.32 344.8 207.47 345.1 208.42 345.4 208.04 345.7 203.11" fill="none" stroke="#ff0000" stroke-width="0.6" />
<path d="M345 207.6 345.3 207.73 345.6 207.79 345.9 208.42 346.2 208.09 346.5 208.55 346.8 208.84 347.1 209.23 347.4 209.23 347.7 209.4 348 209.6 348.3 209.26 348.6 210.04 348.9 210.03 349.2 210.3 349.5 210.05 349.8 210.38 350.1 210.35 350.4 210.56 350.7 210.53 351 210.83 351.3 210.91 351.6 210.85 351.9 210.9 352.2 210.76 352.5 211.21 352.8 211.25 353.1 211.31 353.4 211.1 353.7 211.14 354 211.35 354.3 211.44 354.6 211.54 354.9 211.46 355.2 211.61 355.5 211.21 355.8 211.74 356.1 211.19 356.4 211.7 356.7 211.46 357 211.72 357.3 211.56 357.6 211.57 357.9 211.88 358.2 211.87 358.5 211.39 358.8 211.6 359.1 211.69 359.4 211.89 359.7 211.67 360 212.01 360.3 211.21 360.6 212.02 360.9 211.94 361.2 211.97 361.5 211.99 361.8 211.91 362.1 211.86 362.4 211.79 362.7 212.03 363 211.98 363.3 212.05 363.6 211.9 363.9 212.08 364.2 212.14 364.5 211.84 364.8 212.08 365.1 211.88 365.4 211.65 365.7 211.96 366 212.13 366.3 212.11 366.6 211.95 366.9 212.02 367.2 211.62 367.5 212.08 367.8 211.98 368.1 211.88 368.4 212.21 368.7 212.2 369 211.82 369.3 212.26 369.6 211.98 369.9 212.25 370.2 212.14 370.5 211.84 370.8 212.08 371.1 212.18 371.4 212.23 371.7 212.03 372 212.13 372.3 212 372.6 211.71 372.9 211.93 373.2 212.14 373.5 212.1 373.8 212.28 374.1 211.79 374.4 211.99 374.7 211.93 375 212.03 375.3 212.15 375.6 211.92 375.9 212.27 376.2 212.2 376.5 212.17 376.8 212.11 377.1 211.87 377.4 212.13 377.7 211.91 378 212.08 378.3 212.27 378.6 212.18 378.9 211.78 379.2 212.19 379.5 211.95 379.8 212.16 380.1 212.03 380.4 212.05 380.7 212.25 381 212.08 381.3 211.87 381.6 212.13 381.9 212.21 382.2 212.21 382.5 212.14 382.8 212.29 383.1 212.23 383.4 212.16 383.7 212.05 384 211.84 384.3 212.19 384.6 212.23 384.9 212.26 385.2 212 385.5 211.89 385.8 212.15 386.1 211.77 386.4 212.07 386.7 212.14 387 212.21 387.3 212.11 387.6 212.14 387.9 212.19 388.2 212.21 388.5 211.74 388.8 211.87 389.1 212.16 389.4 212.15 389.7 212.01 390 211.45 390.3 212.27 390.6 212.06 390.9 212.25 391.2 212.1 391.5 212.26 391.8 211.98 392.1 212.26 392.4 212.28 392.7 211.87 393 211.93 393.3 211.95 393.6 211.63 393.9 212.26 394.2 212.22 394.5 211.89 394.8 212.12 395.1 212.04 395.4 211.93 395.7 212.13 396 211.71 396.3 211.81 396.6 212.27 396.9 212.07 397.2 212.25 397.5 212.03 397.8 211.99 398.1 212.18 398.4 212.05 398.7 211.99 399 211.88 399.3 212 399.6 212.27 399.9 212.28 400.2 212.18 400.5 212.26 400.8 212.23 401.1 211.75 401.4 212.16 401.7 211.74 402 212.07 402.3 212.29 402.6 212.17 402.9 212.18 403.2 212.21 403.5 212.26 403.8 212.17 404.1 211.77 404.4 212.1 404.7 212.08 405 212.14 405.3 212.08 405.6 212.14 405.9 212.12 406.2 212.03 406.5 211.87 406.8 212.16 407.1 211.79 407.4 211.53 407.7 212.24 408 212.01 408.3 212.26 408.6 212.07 408.9 212.04 409.2 211.68 409.5 211.91 409.8 212.28 410.1 212.13 410.4 212.3 410.7 212.26 411 212.22 411.3 211.81 411.6 212.21 411.9 212.2 412.2 212.21 412.5 212.04 412.8 211.65 413.1 212.11 413.4 212.06 413.7 211.6 414 212.08 414.3 211.81 414.6 212.12 414.9 212.19 415.2 212.15 415.5 211.95 415.8 212.23 416.1 212.27 416.4 211.99 416.7 211.94 417 211.97 417.3 212.16 417.6 212.06 417.9 211.81 418.2 212.26 418.5 211.9 418.8 212.02 419.1 212.09 419.4 212.23 419.7 211.86 420 211.91 420.3 212.24 420.6 211.82 420.9 211.96 421.2 212.17 421.5 212.27 421.8 212.08 422.1 212.05 422.4 212.21 422.7 212.15 423 211.89 423.3 212.04 423.6 212.09 423.9 212.28 424.2 212.24 424.5 211.96 424.8 212.2 425.1 211.88 425.4 212.21 425.7 212.03 426 212.07 426.3 211.87 426.6 211.95 426.9 212.25 427.2 212.29 427.5 212.23 427.8 211.72 428.1 211.91 428.4 212.14 428.7 212.13 429 212.01 429.3 212.21 429.6 212.23 429.9 211.99 430.2 212.09 430.5 211.86 430.8 212.22 431.1 211.86 431.4 212.01 431.7 212.01 432 212.22 432.3 212.2 432.6 211.99 432.9 211.9 433.2 212.16 433.5 212.1 433.8 212.15 434.1 212 434.4 212.04 434.7 212.16 435 212 435.3 212.22 435.6 212.02 435.9 212.29 436.2 211.51 436.5 211.94 436.8 211.95 437.1 211.87 437.4 212.03 437.7 211.81 438 211.87 438.3 212.19 438.6 212.01 438.9 212.26 439.2 212.24 439.5 212.24 439.8 211.81 440.1 212.21 440.4 212.25 440.7 211.93 441 212.15 441.3 212.29 441.6 212.24 441.9 211.99 442.2 212.07 442.5 212.29 442.8 212.22 443.1 212.26 443.4 212.07 443.7 212.08 444 212.25 444.3 212.05 444.6 212.04 444.9 212.02 445.2 211.99 445.5 212.17 445.8 212.19 446.1 211.66 446.4 212.3 446.7 212.01 447 212.09 447.3 212.1 447.6 211.99 447.9 211.98 448.2 212.03 448.5 212.21 448.8 212.11 449.1 212.1 449.4 212.15 449.7 212.21 450 212.27 450.3 212.19 450.6 212.05 450.9 211.98 451.2 212.08 451.5 212.24 451.8 211.44 452.1 212.11 452.4 212.08 452.7 212.29 453 212.19 453.3 212.17 453.6 212.16 453.9 212.16 454.2 212.27 454.5 212.1 454.8 211.64 455.1 212.17 455.4 212.19 455.7 212.08 456 211.92 456.3 212.05 456.6 211.93 456.9 212.29 457.2 212.24 457.5 212.1 457.8 212.09 458.1 211.79 458.4 211.83 458.7 211.76 459 212.06 459.3 212.11 459.6 211.68 459.9 212.18 460.2 212.26 460.5 212.2 460.8 211.92 461.1 212 461.4 212.24 461.7 211.86 462 212.27 462.3 212.26 462.6 212.26 462.9 212.21 463.2 212.28 463.5 211.96 463.8 211.99 464.1 212.26 464.4 212.01 464.7 212.25 465 212.15 465.3 212.25 465.6 211.76 465.9 212 466.2 212.19 466.5 212.28 466.8 212.2 467.1 212.22 467.4 211.95 467.7 212.13 468 212.23 468.3 211.75 468.6 211.94 468.9 212.2 469.2 211.86 469.5 212.1 469.8 211.83 470.1 211.9 470.4 212.17 470.7 212.28 471 211.95 471.3 211.95 471.6 212.08 471.9 212.12 472.2 212.1 472.5 212.16 472.8 212.24 473.1 212.22 473.4 211.94 473.7 212.06 474 211.99 474.3 212.3 474.6 211.95 474.9 212.23 475.2 212.24 475.5 212.05 475.8 212.27 476.1 211.73 476.4 212 476.7 211.68 477 212.23 477.3 212.17 477.6 212.17 477.9 211.67 478.2 212.12 478.5 212.3 478.8 212.19 479.1 211.46 479.4 212.07 479.7 212.09 480 212.22 480.3 212.05 480.6 211.92 480.9 212.12 481.2 212.28 481.5 212.03 481.8 212.08 482.1 212.21 482.4 212.05 482.7 211.87 483 211.91 483.3 211.95 483.6 212.28 483.9 212.19 484.2 212.01 484.5 212.01 484.8 212.04 485.1 211.91 485.4 212.16 485.7 212.05 486 211.79 486.3 211.81 486.6 212.07 486.9 212.14 487.2 212.14 487.5 211.78 487.8 211.88 488.1 212.03 488.4 212.27 488.7 212.2 489 212.28 489.3 211.9 489.6 212.02 489.9 212.26 490.2 211.81 490.5 212.03 490.8 211.77 491.1 212.17 491.4 212.16 491.7 211.88 492 212.1 492.3 212.19 492.6 212.16 492.9 211.87 493.2 211.85 493.5 212.19 493.8 212.09 494.1 212.03 494.4 212.05 494.7 211.91 495 212.14 495.3 212.29 495.6 212.21 495.9 212.13 496.2 212 496.5 212.28 496.8 212.18 497.1 212.28 497.4 212.12 497.7 212.17 498 212.18 498.3 211.74 498.6 212.11 498.9 212.11 499.2 212.11 499.5 212.24 499.8 211.82 500.1 211.81 500.4 212.12 500.7 212.12 501 212.25 501.3 212.28 501.6 211.84 501.9 211.76 502.2 212.23 502.5 211.85 502.8 211.85 503.1 212.2 503.4 212.15 503.7 212.06 504 211.89 504.3 211.92 504.6 212.08 504.9 212.22 505.2 212.21 505.5 212.01 505.8 212.19 506.1 212.22 506.4 212.2 506.7 212.29 507 212.2 507.3 212.1 507.6 212.01 507.9 212.18 508.2 211.97 508.5 211.75 508.8 211.91 509.1 212.13 509.4 212.3 509.7 212.23 510 211.89 510.3 212.29 510.6 212.2 510.9 212.26 511.2 212.16 511.5 212.09 511.8 212.23 512.1 211.85 512.4 212.29 512.7 212.13 513 211.92 513.3 212.2 513.6 212.28 513.9 212.14 514.2 212.01 514.5 212.11 514.8 212.01 515.1 212.07 515.4 212.13 515.7 211.87 516 211.91 516.3 212.13 516.6 212.27 516.9 212.06 517.2 211.85 517.5 211.96 517.8 212.06 518.1 212.29 518.4 212.27 518.7 212.29 519 212.23 519.3 212.1 519.6 211.9 519.9 212.18 520.2 212.14 520.5 212 520.8 212.16 521.1 211.98 521.4 211.91 521.7 212.07 522 211.98 522.3 212.22 522.6 212.02 522.9 212.02 523.2 212.14 523.5 211.88 523.8 212.11 524.1 212.11 524.4 212.25 524.7 212.21 525 212.2 525.3 212.11 525.6 211.95 525.9 212.28 526.2 212.19 526.5 212.13 526.8 212.19 527.1 212 527.4 212.08 527.7 212.1 528 212.22 528.3 212.06 528.6 211.98 528.9 212.14 529.2 212.12 529.5 212.01 529.8 211.46 530.1 211.9 530.4 211.92 530.7 211.99 531 211.95 531.3 212.19 531.6 212.16 531.9 211.62 532.2 212.16 532.5 212.25 532.8 212.18 533.1 212.19 533.4 212.22 533.7 211.46 534 212.24 534.3 212.1 534.6 212.28 534.9 212.16 535.2 212.3 535.5 212.21 535.8 211.78 536.1 212.06 536.4 211.8 536.7 212.23 537 212.04 537.3 211.88 537.6 212.04 537.9 211.86 538.2 212.03 538.5 212.2 538.8 212.13 539.1 212.11 539.4 212.16 539.7 212.25 540 212.08 540.3 212.3 540.6 212.15 540.9 212.14 541.2 211.95 541.5 212.05 541.8 212.28 542.1 211.97 542.4 212 542.7 212.2 543 211.77 543.3 211.89 543.6 212.02 543.9 211.98" fill="none" stroke="#ff0000" stroke-width="0.8" />
<path d="M348 211.56 348.35 210.67 348.7 211.3 349.05 212 349.4 211.44 349.75 211.7 350.1 210.91 350.45 211.34 350.8 211.86 351.15 211.15 351.5 211.68 351.85 211.83 352.2 211.76 352.55 211.73 352.9 210.68 353.25 211.97 353.6 211.7 353.95 210.84 354.3 210.76 354.65 211.98 355 210.6 355.35 210.96 355.7 211.77 356.05 210.61 356.4 211.77 356.75 211.16 357.1 211.93 357.45 211.62 357.8 211.08 358.15 211.29 358.5 211.54 358.85 211.4 359.2 211.55 359.55 211.63 359.9 211.97 360.25 211.21 360.6 211.49 360.95 211.62 361.3 211.78 361.65 211.64 362 211.75 362.35 211.65 362.7 211.99 363.05 210.86 363.4 211.97 363.75 211.72 364.1 211.49 364.45 211.11 364.8 211.27 365.15 211.49 365.5 210.6 365.85 211.51 366.2 211.34 366.55 209.73 366.9 211.94 367.25 211.02 367.6 211.28 367.95 211.85 368.3 211.81 368.65 211.09 369 211.78 369.35 211.59 369.7 211.04 370.05 211.62 370.4 211.37 370.75 211.83 371.1 211.81 371.45 211.8 371.8 211.67 372.15 211.19 372.5 211.46 372.85 210.6 373.2 211.23 373.55 211.36 373.9 210.6 374.25 211.55 374.6 211.9 374.95 211.42 375.3 211.96 375.65 211.24 376 210.82 376.35 211.18 376.7 211.7 377.05 211.57 377.4 211.26 377.75 210.91 378.1 211.7 378.45 211.71 378.8 210.96 379.15 211.39 379.5 211.33 379.85 211.26 380.2 211.88 380.55 211.57 380.9 210.97 381.25 211.58 381.6 211.6 381.95 211.35 382.3 211.31 382.65 210.6 383 211.9 383.35 211.43 383.7 210.6 384.05 211.48 384.4 211.31 384.75 211.78 385.1 211.01 385.45 211.06 385.8 211.09 386.15 211.59 386.5 211.31 386.85 211.53 387.2 211.07 387.55 211.5 387.9 211.11 388.25 211.84 388.6 211.66 388.95 211.09 389.3 211.57 389.65 211.11 390 211.62 390.35 210.6 390.7 211.99 391.05 211.66 391.4 211.96 391.75 211.75 392.1 211.73 392.45 211.77 392.8 211.98 393.15 210.6 393.5 211.63 393.85 211.04 394.2 211.87 394.55 211.55 394.9 211.23 395.25 211.58 395.6 211.75 395.95 211.59 396.3 211.48 396.65 211.08 397 210.9 397.35 211.85 397.7 211.48 398.05 211.59 398.4 211.5 398.75 211.14 399.1 210.97 399.45 211.83 399.8 210.6 400.15 211.37 400.5 211.62 400.85 211.02 401.2 211.36 401.55 211.36 401.9 211.71 402.25 211.65 402.6 211.42 402.95 211.58 403.3 211.16 403.65 210.87 404 210.74 404.35 210.88 404.7 211.57 405.05 210.64 405.4 211.37 405.75 211.07 406.1 211.62 406.45 211.81 406.8 211.37 407.15 211.41 407.5 211.83 407.85 211.5 408.2 211.05 408.55 211.74 408.9 211.63 409.25 211.37 409.6 211.32 409.95 211.63 410.3 211.76 410.65 211.71 411 211.54 411.35 211.87 411.7 211.28 412.05 211.03 412.4 211.77 412.75 211.29 413.1 211.41 413.45 211.15 413.8 210.74 414.15 211.17 414.5 211.15 414.85 211.1 415.2 211.71 415.55 211.5 415.9 211.33 416.25 210.88 416.6 210.86 416.95 210.6 417.3 211.96 417.65 211.52 418 211.64 418.35 211.77 418.7 211.68 419.05 210.92 419.4 211.12 419.75 209.78 420.1 211.33 420.45 211.13 420.8 210.63 421.15 211.09 421.5 211.44 421.85 211.54 422.2 211.19 422.55 211.35 422.9 211.74 423.25 211.9 423.6 210.97 423.95 211.86 424.3 211.63 424.65 211.1 425 211.53 425.35 210.93 425.7 211.94 426.05 211.12 426.4 211.84 426.75 211.76 427.1 211.98 427.45 211.44 427.8 211.83 428.15 211.82 428.5 210.9 428.85 211.98 429.2 211.55 429.55 211.37 429.9 211.73 430.25 211.32 430.6 211.19 430.95 211.55 431.3 210.98 431.65 211.79 432 211.97 432.35 211.4 432.7 211.98 433.05 211.31 433.4 211.55 433.75 211.73 434.1 211.21 434.45 211.23 434.8 211.03 435.15 211.66 435.5 211.43 435.85 211.26 436.2 211.77 436.55 211.93 436.9 211.44 437.25 211.16 437.6 211.48 437.95 211.75 438.3 211.79 438.65 211.21 439 211.8 439.35 211.09 439.7 211.97 440.05 211.43 440.4 211.94 440.75 211.29 441.1 211.18 441.45 210.85 441.8 211.46 442.15 210.98 442.5 211.3 442.85 211.74 443.2 210.77 443.55 211.8 443.9 211.42 444.25 210.6 444.6 211.07 444.95 211.91 445.3 211.35 445.65 211.78 446 211.57 446.35 211.75 446.7 211.39 447.05 211.73 447.4 211.32 447.75 211.31 448.1 211.08 448.45 210.6 448.8 211.67 449.15 211.9 449.5 212 449.85 211.78 450.2 211.06 450.55 211.67 450.9 211.79 451.25 210.12 451.6 211.82 451.95 211.72 452.3 211.55 452.65 211.78 453 211.54 453.35 211.22 453.7 211.33 454.05 211.88 454.4 211.09 454.75 211.1 455.1 211.35 455.45 211.89 455.8 211.76 456.15 211.48 456.5 211.99 456.85 211.83 457.2 211.06 457.55 211.05 457.9 211.18 458.25 210.85 458.6 211.05 458.95 211.92 459.3 210.93 459.65 211.44 460 211.28 460.35 210.72 460.7 211.28 461.05 210.71 461.4 211.47 461.75 211.69 462.1 211.85 462.45 211.57 462.8 211.66 463.15 211.53 463.5 211.56 463.85 211.77 464.2 211.38 464.55 211.43 464.9 211.15 465.25 211.98 465.6 210.82 465.95 211.86 466.3 211.32 466.65 211.78 467 211.82 467.35 211.61 467.7 211.21 468.05 210.66 468.4 211.02 468.75 211.77 469.1 211.5 469.45 211.58 469.8 211.82 470.15 211.21 470.5 210.71 470.85 211.73 471.2 210.94 471.55 210.8 471.9 211.97 472.25 210.61 472.6 210.66 472.95 211.35 473.3 210.65 473.65 211.37 474 210.92 474.35 211.17 474.7 211.93 475.05 211.37 475.4 211.58 475.75 211.75 476.1 211.92 476.45 211.89 476.8 211.88 477.15 210.93 477.5 211.52 477.85 211.46 478.2 211.81 478.55 211.88 478.9 211.14 479.25 211.9 479.6 210.9 479.95 211.59 480.3 211.33 480.65 211.56 481 211.17 481.35 211.03 481.7 211.72 482.05 211.5 482.4 210.62 482.75 211.79 483.1 210.6 483.45 211.7 483.8 211.78 484.15 211.66 484.5 211.92 484.85 211.63 485.2 211.79 485.55 211.15 485.9 211.53 486.25 211.8 486.6 211.99 486.95 211.84 487.3 211.77 487.65 211.86 488 210.6 488.35 211.38 488.7 211.96 489.05 211.16 489.4 210.75 489.75 211.82 490.1 211.55 490.45 211.87 490.8 211.7 491.15 210.81 491.5 210.6 491.85 211.87 492.2 211.69 492.55 210.79 492.9 210.97 493.25 211.26 493.6 210.76 493.95 211.67 494.3 211.36 494.65 211.1 495 211.66 495.35 211.26 495.7 211.62 496.05 211.27 496.4 211.42 496.75 211.51 497.1 211.46 497.45 211.78 497.8 211.93 498.15 211.67 498.5 211.09 498.85 211.67 499.2 211.69 499.55 210.88 499.9 211.15 500.25 211.61 500.6 211.46 500.95 211.17 501.3 211.63 501.65 211.68 502 211.13 502.35 211.82 502.7 211.54 503.05 211.06 503.4 211.22 503.75 211.81 504.1 210.77 504.45 210.93 504.8 210.6 505.15 211.53 505.5 211.39 505.85 210.97 506.2 211.28 506.55 209.39 506.9 211.55 507.25 211.65 507.6 211.83 507.95 211.82 508.3 211.3 508.65 211.65 509 211.79 509.35 211.47 509.7 210.67 510.05 210.82 510.4 211.5 510.75 211.92 511.1 211.11 511.45 211.46 511.8 211.46 512.15 211.56 512.5 211.47 512.85 211.99 513.2 210.91 513.55 211.98 513.9 211.57 514.25 210.73 514.6 210.96 514.95 211.5 515.3 211.5 515.65 211.8 516 211.75 516.35 211.62 516.7 210.83 517.05 211.71 517.4 211.21 517.75 211.28 518.1 211.29 518.45 211.63 518.8 211.13 519.15 211.41 519.5 211.44 519.85 211.73 520.2 211.44 520.55 211.13 520.9 211.12 521.25 211.74 521.6 211.58 521.95 211.35 522.3 211.97 522.65 211.14 523 211.13 523.35 211.06 523.7 211.03 524.05 211.57 524.4 211.23 524.75 211.71 525.1 210.93 525.45 210.96 525.8 211.08 526.15 211.53 526.5 210.6 526.85 211.51 527.2 212 527.55 211 527.9 211.8 528.25 210.6 528.6 210.98 528.95 210.82 529.3 210.96 529.65 211.28 530 211.86 530.35 211.78 530.7 211.2 531.05 211.58 531.4 211.29 531.75 211.82 532.1 211.87 532.45 211.33 532.8 211.11 533.15 211.48 533.5 211.96 533.85 211.7 534.2 210.6 534.55 211.95 534.9 211.91 535.25 211.84 535.6 211.04 535.95 211.86 536.3 211.21 536.65 211.34 537 211.95 537.35 211.41 537.7 211.91 538.05 211.57 538.4 211.12 538.75 211.6 539.1 211.94 539.45 211.7 539.8 211.58 540.15 211.32 540.5 211.37 540.85 211.59 541.2 211.25 541.55 211.55 541.9 211.49 542.25 211.39 542.6 211.58 542.95 211.72 543.3 211.45 543.65 211.17" fill="none" stroke="#1a1a1a" stroke-width="0.75" />
<rect x="335.5" y="5.1" width="209" height="208.3" fill="none" stroke="#000" stroke-width="1.15"/>
<line x1="351.51" y1="213" x2="351.51" y2="210.6" stroke="#000" stroke-width="1"/>
<line x1="368.32" y1="213" x2="368.32" y2="208" stroke="#000" stroke-width="1"/>
<line x1="385.13" y1="213" x2="385.13" y2="210.6" stroke="#000" stroke-width="1"/>
<line x1="401.94" y1="213" x2="401.94" y2="208" stroke="#000" stroke-width="1"/>
<line x1="418.75" y1="213" x2="418.75" y2="210.6" stroke="#000" stroke-width="1"/>
<line x1="435.56" y1="213" x2="435.56" y2="208" stroke="#000" stroke-width="1"/>
<line x1="452.37" y1="213" x2="452.37" y2="210.6" stroke="#000" stroke-width="1"/>
<line x1="469.18" y1="213" x2="469.18" y2="208" stroke="#000" stroke-width="1"/>
<line x1="485.99" y1="213" x2="485.99" y2="210.6" stroke="#000" stroke-width="1"/>
<line x1="502.8" y1="213" x2="502.8" y2="208" stroke="#000" stroke-width="1"/>
<line x1="519.61" y1="213" x2="519.61" y2="210.6" stroke="#000" stroke-width="1"/>
<line x1="536.42" y1="213" x2="536.42" y2="208" stroke="#000" stroke-width="1"/>
<text x="334.7" y="229.6" font-size="13" text-anchor="middle" fill="#000" >0</text>
<text x="368.32" y="229.6" font-size="13" text-anchor="middle" fill="#000" >100</text>
<text x="401.94" y="229.6" font-size="13" text-anchor="middle" fill="#000" >200</text>
<text x="435.56" y="229.6" font-size="13" text-anchor="middle" fill="#000" >300</text>
<text x="469.18" y="229.6" font-size="13" text-anchor="middle" fill="#000" >400</text>
<text x="502.8" y="229.6" font-size="13" text-anchor="middle" fill="#000" >500</text>
<text x="536.42" y="229.6" font-size="13" text-anchor="middle" fill="#000" >600</text>
<text x="328.6" y="217.2" font-size="13" text-anchor="end" fill="#000" >0.00</text>
<line x1="335" y1="189.84" x2="337.4" y2="189.84" stroke="#000" stroke-width="1"/>
<line x1="335" y1="166.68" x2="340" y2="166.68" stroke="#000" stroke-width="1"/>
<text x="328.6" y="170.88" font-size="13" text-anchor="end" fill="#000" >0.01</text>
<line x1="335" y1="143.52" x2="337.4" y2="143.52" stroke="#000" stroke-width="1"/>
<line x1="335" y1="120.36" x2="340" y2="120.36" stroke="#000" stroke-width="1"/>
<text x="328.6" y="124.56" font-size="13" text-anchor="end" fill="#000" >0.02</text>
<line x1="335" y1="97.2" x2="337.4" y2="97.2" stroke="#000" stroke-width="1"/>
<line x1="335" y1="74.04" x2="340" y2="74.04" stroke="#000" stroke-width="1"/>
<text x="328.6" y="78.24" font-size="13" text-anchor="end" fill="#000" >0.03</text>
<line x1="335" y1="50.88" x2="337.4" y2="50.88" stroke="#000" stroke-width="1"/>
<line x1="335" y1="27.72" x2="340" y2="27.72" stroke="#000" stroke-width="1"/>
<text x="328.6" y="31.92" font-size="13" text-anchor="end" fill="#000" >0.04</text>
<line x1="345" y1="213.1" x2="544" y2="213.1" stroke="#880000" stroke-width="0.9"/>
<line x1="335.6" y1="23.6" x2="335.6" y2="196" stroke="#ff0000" stroke-width="1.4"/>
<rect x="404.6" y="5.1" width="139.4" height="37.2" fill="#fff" stroke="#707070" stroke-width="1.1"/>
<line x1="406.5" y1="15" x2="439.5" y2="15" stroke="#666" stroke-width="1.7"/>
<line x1="406.5" y1="32.5" x2="439.5" y2="32.5" stroke="#ff2a2a" stroke-width="1.2"/>
<line x1="335" y1="5.1" x2="545" y2="5.1" stroke="#000" stroke-width="1.15"/>
<line x1="544.5" y1="5" x2="544.5" y2="43" stroke="#000" stroke-width="1.15"/>
<text x="443" y="19.8" font-size="14.6" text-anchor="start" fill="#000" >Before denoising</text>
<text x="443" y="37.6" font-size="14.6" text-anchor="start" fill="#000" >After denoising</text>
<text x="293.5" y="103" font-size="15.5" text-anchor="middle" fill="#000" textLength="99" lengthAdjust="spacingAndGlyphs" transform="rotate(-90 293.5 103)">Amplitude (V)</text>
<text x="440" y="248.5" font-size="14.5" text-anchor="middle" fill="#000" >Frequency (MHz)</text>
<text x="437.5" y="267.5" font-size="14.6" text-anchor="middle" fill="#000" >(b)Spectrum plots</text>
<text x="374.2" y="186" font-size="14.8" text-anchor="start" fill="#000" >enlarge</text>
<line x1="372.3" y1="187.3" x2="386.6" y2="159.5" stroke="#000" stroke-width="0.9"/>
<path d="M388.6 155.3 L383.7 159.8 L387.9 161.9 Z" fill="#000"/>
<path d="M388.5 111.74 388.95 125.32 389.4 132.89 389.85 122.04 390.3 120.78 390.75 124.62 391.2 118.84 391.65 119.77 392.1 124.29 392.55 122.81 393 139.42 393.45 128.79 393.9 140.04 394.35 136.78 394.8 127.68 395.25 126.84 395.7 124.98 396.15 126.96 396.6 136.05 397.05 136.26 397.5 128.45 397.95 140.3 398.4 129.79 398.85 142.49 399.3 138.02 399.75 142.82 400.2 140.54 400.65 132.96 401.1 132.21 401.55 136.99 402 141.63 402.45 138.99 402.9 135.25 403.35 142.4 403.8 134.34 404.25 139.94 404.7 140.4 405.15 135.06 405.6 142.85 406.05 135.11 406.5 140.42 406.95 131.86 407.4 134.56 407.85 138.09 408.3 139.35 408.75 134.38 409.2 138.88 409.65 140.92 410.1 144.88 410.55 143.95 411 137.73 411.45 138.61 411.9 145.15 412.35 142.1 412.8 142.36 413.25 144.88 413.7 142.64 414.15 134.74 414.6 140.48 415.05 134.5 415.5 144.16 415.95 139.5 416.4 139.83 416.85 139.42 417.3 143.42 417.75 143.23 418.2 142.9 418.65 140.32 419.1 143.46 419.55 142.88 420 146.07 420.45 144.04 420.9 140.69 421.35 141.89 421.8 142.45 422.25 141.56 422.7 146.11 423.15 142.07 423.6 144.88 424.05 140.64 424.5 142.35 424.95 141.52 425.4 144.69 425.85 141.51 426.3 141.66 426.75 144.12 427.2 144.2 427.65 145.64 428.1 143.9 428.55 145.55 429 141.75 429.45 146.11 429.9 142.8 430.35 143.31 430.8 142.57 431.25 142.49 431.7 144.46 432.15 145.02 432.6 145.66 433.05 144.51 433.5 142.54 433.95 145.04 434.4 145.85 434.85 145.81 435.3 143.46 435.75 141.59 436.2 144.11 436.65 139.94 437.1 143 437.55 144.45 438 140.95 438.45 136.58 438.9 146.53 439.35 143.34 439.8 142.27 440.25 138.38 440.7 143.19 441.15 142.81 441.6 138.78 442.05 146.62 442.5 146.74 442.95 141.7 443.4 144.64 443.85 142.23 444.3 145.65 444.75 146.87 445.2 143.13 445.65 144.23 446.1 145.02 446.55 143.71 447 143.24 447.45 146.14 447.9 145.81 448.35 143.24 448.8 141.3 449.25 146.65 449.7 140.3 450.15 145.01 450.6 144 451.05 141.33 451.5 144.34 451.95 143.77 452.4 139.63 452.85 140.74 453.3 144.04 453.75 143.26 454.2 141.27 454.65 143.46 455.1 146.77 455.55 142.12 456 143.2 456.45 143.34 456.9 145.2 457.35 144.91 457.8 140.5 458.25 146.57 458.7 144.64 459.15 140.87 459.6 144.34 460.05 144.18 460.5 144.34 460.95 144.78 461.4 145.9 461.85 144.38 462.3 145.01 462.75 143.89 463.2 145.34 463.65 143.51 464.1 145.2 464.55 144.63 465 140.25 465.45 145.22 465.9 138.38 466.35 144.61 466.8 146.76 467.25 146.55 467.7 145.46 468.15 142.6 468.6 146.68 469.05 145.74 469.5 140.73 469.95 146.09 470.4 144.68 470.85 144.49 471.3 146.06 471.75 143.45 472.2 142.7 472.65 142.94 473.1 144.46 473.55 145.89 474 144.43 474.45 143.24 474.9 144.11 475.35 145.86 475.8 139.38 476.25 140.91 476.7 146.36 477.15 140.49 477.6 145.08 478.05 142.2 478.5 146.68 478.95 145.94 479.4 146.69 479.85 143.03 480.3 143.88 480.75 146.68 481.2 139.61 481.65 144.57 482.1 141.59 482.55 147.04 483 145.54 483.45 142.78 483.9 145.18 484.35 144.54 484.8 144.95 485.25 145.41 485.7 145.6 486.15 143.88 486.6 145.69 487.05 144.34 487.5 145.25 487.95 144 488.4 143.68 488.85 145.14 489.3 144.75 489.75 146.56 490.2 145.1 490.65 140.5 491.1 143.98 491.55 144.5 492 146.75 492.45 144.75 492.9 144.5 493.35 144.33 493.8 145.9 494.25 146.28 494.7 145.6 495.15 145.85 495.6 144.3 496.05 145.57 496.5 145.3 496.95 144.88 497.4 143.37 497.85 145.89 498.3 144.72 498.75 146.5 499.2 144.44 499.65 143.77 500.1 143.78 500.55 144.04 501 144.2 501.45 142.01 501.9 143.84 502.35 144.18 502.8 143.82 503.25 145.9 503.7 140.14 504.15 146.27 504.6 146.68 505.05 141.13 505.5 145.78 505.95 144.77 506.4 145.11 506.85 146.44 507.3 145.41 507.75 145.87 508.2 143.71 508.65 144.29 509.1 143.31 509.55 140 510 144.58 510.45 142.64 510.9 142.17 511.35 143.35 511.8 145.04 512.25 143.92 512.7 144.28 513.15 145.29 513.6 145.93 514.05 143.24 514.5 140.31 514.95 139.74 515.4 142.83 515.85 139 516.3 146.45 516.75 144.73 517.2 146.08 517.65 143.88 518.1 145.36 518.55 144.83 519 145.27 519.45 145.27 519.9 138.39 520.35 143.19 520.8 145.86 521.25 143.44 521.7 141.75 522.15 145.1 522.6 144.4 523.05 143.49 523.5 143.96 523.95 144.66 524.4 141.18 524.85 145.1 525.3 142.57 525.75 143.79 526.2 145.68 526.65 144.19 527.1 146.22 527.55 145.14 528 144.82 528.45 143.23 528.9 141.1 529.35 142.75 529.8 143.98 530.25 143.72 530.7 146.22 531.15 144.83 531.6 145.48 532.05 143.13 532.5 143.71 532.95 146.67 533.4 143.77 533.85 145.47 534.3 145.5 534.75 144.6 535.2 144.81 535.65 143.07 536.1 144.92 536.55 146" fill="none" stroke="#1a1a1a" stroke-width="0.6" />
<path d="M388.5 119.14 388.95 128.89 389.4 133.85 389.85 126.6 390.3 123.74 390.75 128.3 391.2 122.14 391.65 121.75 392.1 127.07 392.55 124.91 393 140.53 393.45 131.72 393.9 142.05 394.35 137.94 394.8 131.92 395.25 131.61 395.7 129.75 396.15 130.06 396.6 139.17 397.05 136.85 397.5 132.35 397.95 140.71 398.4 131.61 398.85 143.47 399.3 139.02 399.75 143.56 400.2 140.66 400.65 133.95 401.1 132.57 401.55 139.48 402 141.85 402.45 141.02 402.9 135.52 403.35 142.74 403.8 136.81 404.25 141.78 404.7 142.53 405.15 136.27 405.6 143.06 406.05 136.33 406.5 141.2 406.95 136.31 407.4 138.91 407.85 138.19 408.3 140.88 408.75 137.44 409.2 139.75 409.65 142.16 410.1 145.3 410.55 144.31 411 139.2 411.45 138.78 411.9 145.7 412.35 142.98 412.8 142.81 413.25 144.92 413.7 145.86 414.15 140.25 414.6 140.58 415.05 140.35 415.5 144.29 415.95 140.57 416.4 140.13 416.85 141.36 417.3 144.23 417.75 144.11 418.2 143.42 418.65 141.04 419.1 143.55 419.55 144.04 420 146.16 420.45 144.71 420.9 145.39 421.35 143.99 421.8 144.03 422.25 145.58 422.7 146.19 423.15 143.35 423.6 145.43 424.05 143.3 424.5 143.84 424.95 142.37 425.4 145.44 425.85 141.99 426.3 142.66 426.75 144.41 427.2 145.14 427.65 145.83 428.1 144.17 428.55 145.99 429 145.22 429.45 146.58 429.9 143.85 430.35 144.18 430.8 143.86 431.25 143.17 431.7 144.5 432.15 145.31 432.6 145.85 433.05 144.7 433.5 145.09 433.95 145.1 434.4 145.85 434.85 146.16 435.3 143.67 435.75 142.94 436.2 144.24 436.65 144.53 437.1 146.33 437.55 145.22 438 143.22 438.45 143.16 438.9 146.76 439.35 143.69 439.8 146.21 440.25 143.32 440.7 146.19 441.15 144.04 441.6 143.33 442.05 146.91 442.5 147.05 442.95 145.03 443.4 145.44 443.85 143.49 444.3 146 444.75 147.05 445.2 143.81 445.65 144.84 446.1 145.18 446.55 144.75 447 143.73 447.45 146.16 447.9 146.21 448.35 143.45 448.8 145.22 449.25 147.03 449.7 144.33 450.15 145.07 450.6 146.99 451.05 145.79 451.5 144.99 451.95 144 452.4 144.75 452.85 144.85 453.3 144.45 453.75 145.65 454.2 144.23 454.65 144.55 455.1 146.84 455.55 144.56 456 143.96 456.45 143.79 456.9 145.6 457.35 146.76 457.8 145.16 458.25 146.85 458.7 145.14 459.15 144.52 459.6 145.08 460.05 144.73 460.5 144.53 460.95 145.5 461.4 146.29 461.85 144.41 462.3 145.4 462.75 144.73 463.2 145.84 463.65 144.01 464.1 145.82 464.55 145.09 465 144.98 465.45 145.35 465.9 144.41 466.35 146.28 466.8 147 467.25 146.68 467.7 145.72 468.15 144.76 468.6 146.69 469.05 145.75 469.5 145.01 469.95 146.5 470.4 144.97 470.85 144.95 471.3 146.43 471.75 144.1 472.2 143.9 472.65 143.98 473.1 146.44 473.55 146.1 474 145.33 474.45 144.39 474.9 147.15 475.35 146.35 475.8 144.96 476.25 146.45 476.7 146.47 477.15 143.76 477.6 145.12 478.05 144.83 478.5 146.93 478.95 146.2 479.4 146.81 479.85 146.38 480.3 146.77 480.75 146.85 481.2 144.57 481.65 146.28 482.1 144.13 482.55 147.21 483 146.13 483.45 146.19 483.9 145.84 484.35 145.23 484.8 145.49 485.25 146.04 485.7 146.06 486.15 144.78 486.6 146.15 487.05 144.83 487.5 145.5 487.95 146.42 488.4 144.63 488.85 145.38 489.3 145.04 489.75 146.98 490.2 145.65 490.65 145.47 491.1 145.82 491.55 145.96 492 146.79 492.45 145.53 492.9 144.56 493.35 145.23 493.8 146.18 494.25 146.58 494.7 145.96 495.15 146.16 495.6 146.59 496.05 145.83 496.5 146.01 496.95 145.41 497.4 144.37 497.85 146.01 498.3 144.92 498.75 146.66 499.2 146.42 499.65 144.27 500.1 144.67 500.55 144.78 501 144.41 501.45 144.16 501.9 144.01 502.35 144.74 502.8 144.04 503.25 146.32 503.7 145.6 504.15 146.59 504.6 146.88 505.05 145.88 505.5 146.08 505.95 145.07 506.4 145.84 506.85 146.71 507.3 145.54 507.75 146.11 508.2 144.6 508.65 144.87 509.1 143.95 509.55 143.91 510 145.26 510.45 146.35 510.9 145.3 511.35 146.22 511.8 145.45 512.25 144.63 512.7 144.75 513.15 145.67 513.6 146.2 514.05 147.15 514.5 144.28 514.95 144.38 515.4 145.16 515.85 144.46 516.3 146.58 516.75 144.97 517.2 146.24 517.65 144.41 518.1 145.87 518.55 145.59 519 145.99 519.45 145.77 519.9 144.24 520.35 143.89 520.8 146.32 521.25 144.48 521.7 143.95 522.15 145.46 522.6 145.18 523.05 144.41 523.5 144.96 523.95 145.4 524.4 144.16 524.85 145.32 525.3 144.53 525.75 144.09 526.2 146.15 526.65 144.37 527.1 146.6 527.55 145.38 528 144.99 528.45 144.29 528.9 146.16 529.35 143.9 529.8 144.66 530.25 144.07 530.7 146.37 531.15 145.36 531.6 145.69 532.05 143.93 532.5 144.45 532.95 146.68 533.4 144.11 533.85 146 534.3 145.62 534.75 147.06 535.2 145.49 535.65 144.12 536.1 145.65 536.55 147.14" fill="none" stroke="#ff1a1a" stroke-width="0.65" />
<line x1="388" y1="147.9" x2="537" y2="147.9" stroke="#ff3030" stroke-width="0.9"/>
<line x1="388" y1="149.5" x2="388" y2="37" stroke="#777" stroke-width="1.1"/>
<path d="M388 32.8 L385.8 38.2 L390.2 38.2 Z" fill="#111"/>
<line x1="388" y1="149" x2="535" y2="149" stroke="#666" stroke-width="1.1"/>
<path d="M540.3 149 L535 146.8 L535 151.2 Z" fill="#111"/>
<text x="384.9" y="150.6" font-size="7.2" text-anchor="end" fill="#111" textLength="13.4" lengthAdjust="spacingAndGlyphs" stroke="#222" stroke-width="0.1">0.000</text>
<line x1="388" y1="137.19" x2="389.3" y2="137.19" stroke="#333" stroke-width="0.8"/>
<line x1="388" y1="125.38" x2="390" y2="125.38" stroke="#333" stroke-width="0.8"/>
<text x="384.9" y="126.97" font-size="7.2" text-anchor="end" fill="#111" textLength="13.4" lengthAdjust="spacingAndGlyphs" stroke="#222" stroke-width="0.1">0.001</text>
<line x1="388" y1="113.56" x2="389.3" y2="113.56" stroke="#333" stroke-width="0.8"/>
<line x1="388" y1="101.75" x2="390" y2="101.75" stroke="#333" stroke-width="0.8"/>
<text x="384.9" y="103.35" font-size="7.2" text-anchor="end" fill="#111" textLength="13.4" lengthAdjust="spacingAndGlyphs" stroke="#222" stroke-width="0.1">0.002</text>
<line x1="388" y1="89.94" x2="389.3" y2="89.94" stroke="#333" stroke-width="0.8"/>
<line x1="388" y1="78.12" x2="390" y2="78.12" stroke="#333" stroke-width="0.8"/>
<text x="384.9" y="79.72" font-size="7.2" text-anchor="end" fill="#111" textLength="13.4" lengthAdjust="spacingAndGlyphs" stroke="#222" stroke-width="0.1">0.003</text>
<line x1="388" y1="66.31" x2="389.3" y2="66.31" stroke="#333" stroke-width="0.8"/>
<line x1="388" y1="54.5" x2="390" y2="54.5" stroke="#333" stroke-width="0.8"/>
<text x="384.9" y="56.1" font-size="7.2" text-anchor="end" fill="#111" textLength="13.4" lengthAdjust="spacingAndGlyphs" stroke="#222" stroke-width="0.1">0.004</text>
<line x1="394" y1="149" x2="394" y2="147" stroke="#333" stroke-width="0.8"/>
<text x="394" y="157.7" font-size="7.2" text-anchor="middle" fill="#222" stroke="#222" stroke-width="0.1">40</text>
<line x1="405.8" y1="149" x2="405.8" y2="147.7" stroke="#333" stroke-width="0.8"/>
<line x1="417.6" y1="149" x2="417.6" y2="147" stroke="#333" stroke-width="0.8"/>
<text x="417.6" y="157.7" font-size="7.2" text-anchor="middle" fill="#222" stroke="#222" stroke-width="0.1">60</text>
<line x1="429.4" y1="149" x2="429.4" y2="147.7" stroke="#333" stroke-width="0.8"/>
<line x1="441.2" y1="149" x2="441.2" y2="147" stroke="#333" stroke-width="0.8"/>
<text x="441.2" y="157.7" font-size="7.2" text-anchor="middle" fill="#222" stroke="#222" stroke-width="0.1">80</text>
<line x1="453" y1="149" x2="453" y2="147.7" stroke="#333" stroke-width="0.8"/>
<line x1="464.8" y1="149" x2="464.8" y2="147" stroke="#333" stroke-width="0.8"/>
<text x="464.8" y="157.7" font-size="7.2" text-anchor="middle" fill="#222" stroke="#222" stroke-width="0.1">100</text>
<line x1="476.6" y1="149" x2="476.6" y2="147.7" stroke="#333" stroke-width="0.8"/>
<line x1="488.4" y1="149" x2="488.4" y2="147" stroke="#333" stroke-width="0.8"/>
<text x="488.4" y="157.7" font-size="7.2" text-anchor="middle" fill="#222" stroke="#222" stroke-width="0.1">120</text>
<line x1="500.2" y1="149" x2="500.2" y2="147.7" stroke="#333" stroke-width="0.8"/>
<line x1="512" y1="149" x2="512" y2="147" stroke="#333" stroke-width="0.8"/>
<text x="512" y="157.7" font-size="7.2" text-anchor="middle" fill="#222" stroke="#222" stroke-width="0.1">140</text>
<line x1="523.8" y1="149" x2="523.8" y2="147.7" stroke="#333" stroke-width="0.8"/>
<line x1="535.6" y1="149" x2="535.6" y2="147" stroke="#333" stroke-width="0.8"/>
<text x="535.6" y="157.7" font-size="7.2" text-anchor="middle" fill="#222" stroke="#222" stroke-width="0.1">160</text>
<text x="463.4" y="169.2" font-size="8.6" text-anchor="middle" fill="#111" textLength="52.5" lengthAdjust="spacingAndGlyphs" stroke="#111" stroke-width="0.12">Frequency (MHz)</text>
<text x="367.3" y="91" font-size="8.6" text-anchor="middle" fill="#111" textLength="42.6" lengthAdjust="spacingAndGlyphs" stroke="#111" stroke-width="0.1" transform="rotate(-90 367.3 91.0)">Amplitude (V)</text></svg></body></html>
